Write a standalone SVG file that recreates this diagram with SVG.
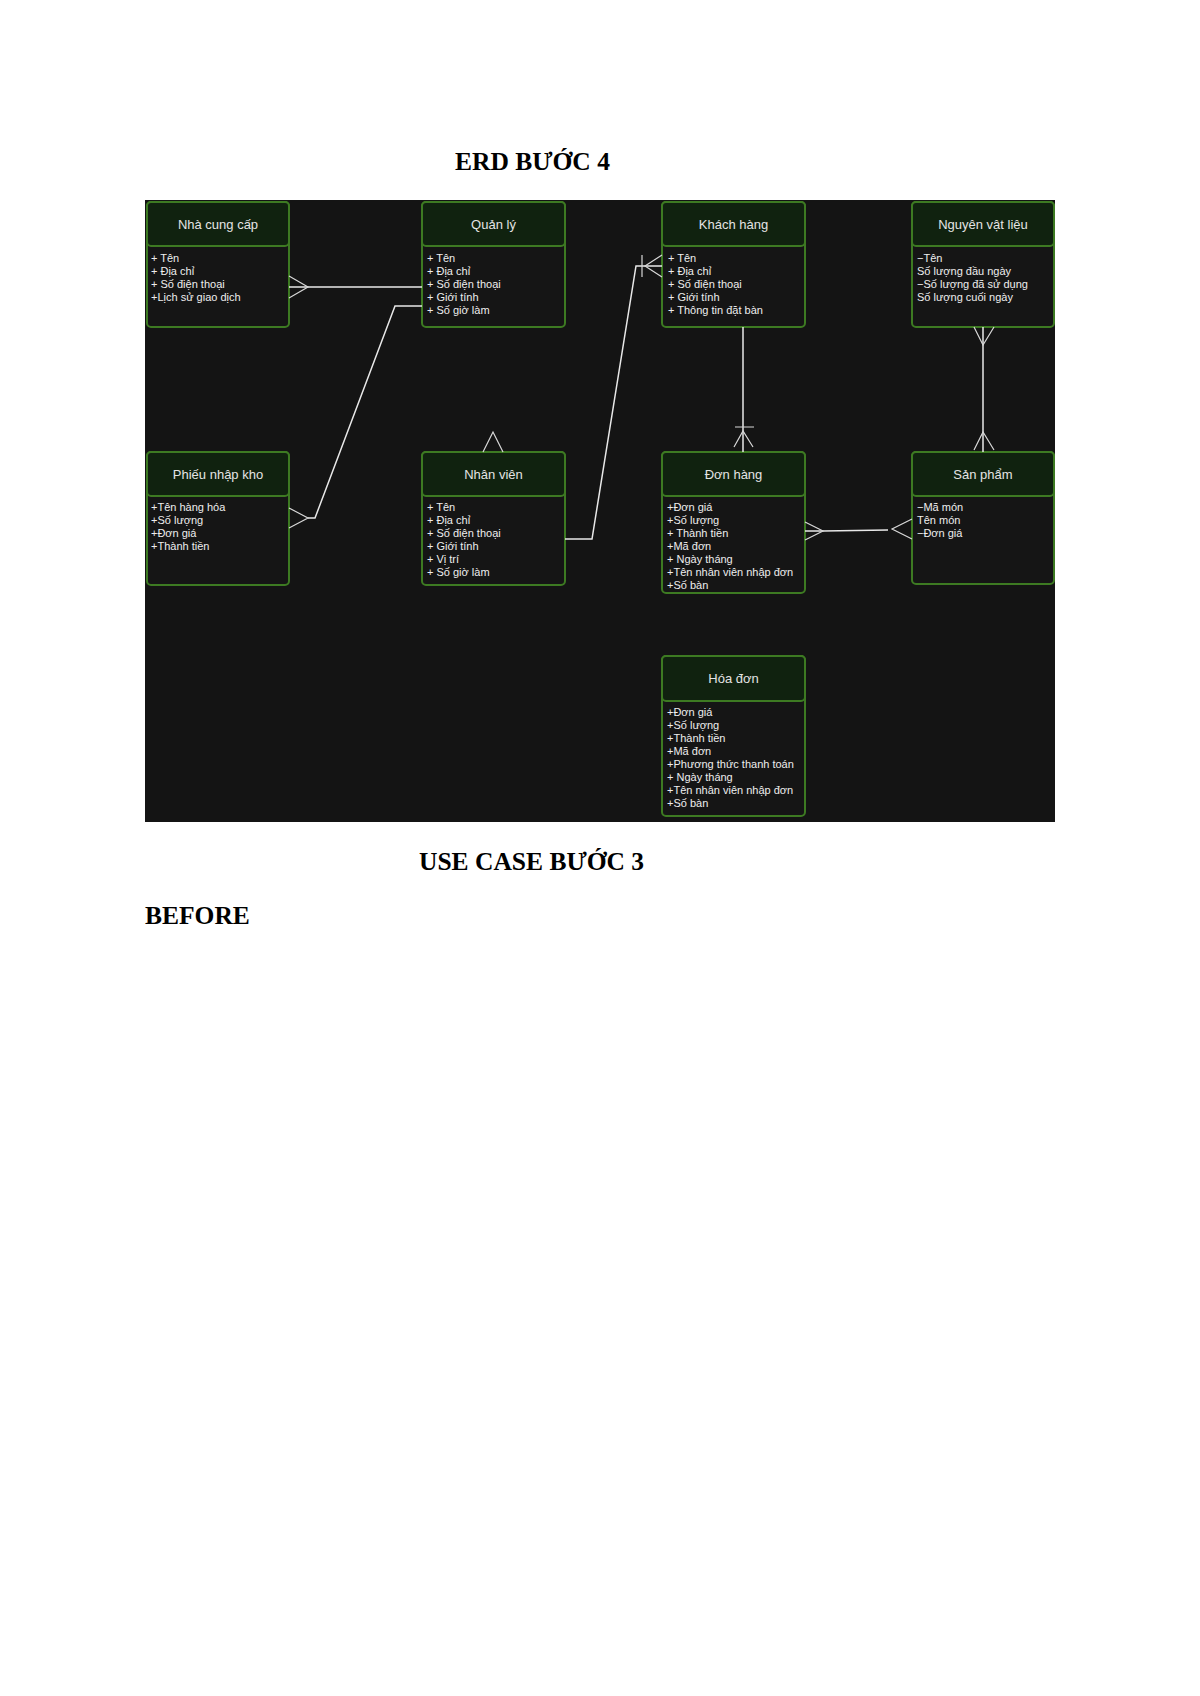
<svg xmlns="http://www.w3.org/2000/svg" width="1200" height="1696" viewBox="0 0 1200 1696">
<style>
.title{font-family:"Liberation Serif","Times New Roman",serif;font-weight:bold;font-size:25.5px;fill:#000}
.hdr{fill:#10220f;stroke:#3d7a22;stroke-width:2}
.body{fill:#151515;stroke:#3d7a22;stroke-width:2}
.name{font-family:"Liberation Sans",Arial,sans-serif;font-size:13px;fill:#e4e4e4;text-anchor:middle}
.attr{font-family:"Liberation Sans",Arial,sans-serif;font-size:11px;fill:#eeeeee}
.ln{fill:none;stroke:#e8e8e8;stroke-width:1.5}
.ft{fill:none;stroke:#d8d8d8;stroke-width:1.2}
</style>
<rect x="0" y="0" width="1200" height="1696" fill="#ffffff"/>
<text class="title" x="455" y="170">ERD BƯỚC 4</text>
<rect x="145" y="200" width="910" height="622" fill="#141414"/>

<g id="nha-cung-cap">
<rect class="body" x="147" y="202" width="142" height="125" rx="4"/>
<rect class="hdr" x="147" y="202" width="142" height="44" rx="4"/>
<text class="name" x="218" y="229">Nhà cung cấp</text>
<text class="attr" x="151" y="262">+ Tên</text>
<text class="attr" x="151" y="275">+ Địa chỉ</text>
<text class="attr" x="151" y="288">+ Số điện thoại</text>
<text class="attr" x="151" y="301">+Lịch sử giao dịch</text>
</g>

<g id="quan-ly">
<rect class="body" x="422" y="202" width="143" height="125" rx="4"/>
<rect class="hdr" x="422" y="202" width="143" height="44" rx="4"/>
<text class="name" x="493.5" y="229">Quản lý</text>
<text class="attr" x="427" y="262">+ Tên</text>
<text class="attr" x="427" y="275">+ Địa chỉ</text>
<text class="attr" x="427" y="288">+ Số điện thoại</text>
<text class="attr" x="427" y="301">+ Giới tính</text>
<text class="attr" x="427" y="314">+ Số giờ làm</text>
</g>

<g id="khach-hang">
<rect class="body" x="662" y="202" width="143" height="125" rx="4"/>
<rect class="hdr" x="662" y="202" width="143" height="44" rx="4"/>
<text class="name" x="733.5" y="229">Khách hàng</text>
<text class="attr" x="668" y="262">+ Tên</text>
<text class="attr" x="668" y="275">+ Địa chỉ</text>
<text class="attr" x="668" y="288">+ Số điện thoại</text>
<text class="attr" x="668" y="301">+ Giới tính</text>
<text class="attr" x="668" y="314">+ Thông tin đặt bàn</text>
</g>

<g id="nguyen-vat-lieu">
<rect class="body" x="912" y="202" width="142" height="125" rx="4"/>
<rect class="hdr" x="912" y="202" width="142" height="44" rx="4"/>
<text class="name" x="983" y="229">Nguyên vật liệu</text>
<text class="attr" x="917" y="262">−Tên</text>
<text class="attr" x="917" y="275"> Số lượng đầu ngày</text>
<text class="attr" x="917" y="288">−Số lượng đã sử dụng</text>
<text class="attr" x="917" y="301"> Số lượng cuối ngày</text>
</g>

<g id="phieu-nhap-kho">
<rect class="body" x="147" y="452" width="142" height="133" rx="4"/>
<rect class="hdr" x="147" y="452" width="142" height="44" rx="4"/>
<text class="name" x="218" y="479">Phiếu nhập kho</text>
<text class="attr" x="151" y="511">+Tên hàng hóa</text>
<text class="attr" x="151" y="524">+Số lượng</text>
<text class="attr" x="151" y="537">+Đơn giá</text>
<text class="attr" x="151" y="550">+Thành tiền</text>
</g>

<g id="nhan-vien">
<rect class="body" x="422" y="452" width="143" height="133" rx="4"/>
<rect class="hdr" x="422" y="452" width="143" height="44" rx="4"/>
<text class="name" x="493.5" y="479">Nhân viên</text>
<text class="attr" x="427" y="511">+ Tên</text>
<text class="attr" x="427" y="524">+ Địa chỉ</text>
<text class="attr" x="427" y="537">+ Số điện thoại</text>
<text class="attr" x="427" y="550">+ Giới tính</text>
<text class="attr" x="427" y="563">+ Vị trí</text>
<text class="attr" x="427" y="576">+ Số giờ làm</text>
</g>

<g id="don-hang">
<rect class="body" x="662" y="452" width="143" height="141" rx="4"/>
<rect class="hdr" x="662" y="452" width="143" height="44" rx="4"/>
<text class="name" x="733.5" y="479">Đơn hàng</text>
<text class="attr" x="667" y="511">+Đơn giá</text>
<text class="attr" x="667" y="524">+Số lượng</text>
<text class="attr" x="667" y="537">+ Thành tiền</text>
<text class="attr" x="667" y="550">+Mã đơn</text>
<text class="attr" x="667" y="563">+ Ngày tháng</text>
<text class="attr" x="667" y="576">+Tên nhân viên nhập đơn</text>
<text class="attr" x="667" y="589">+Số bàn</text>
</g>

<g id="san-pham">
<rect class="body" x="912" y="452" width="142" height="132" rx="4"/>
<rect class="hdr" x="912" y="452" width="142" height="44" rx="4"/>
<text class="name" x="983" y="479">Sản phẩm</text>
<text class="attr" x="917" y="511">−Mã món</text>
<text class="attr" x="917" y="524"> Tên món</text>
<text class="attr" x="917" y="537">−Đơn giá</text>
</g>

<g id="hoa-don">
<rect class="body" x="662" y="656" width="143" height="160" rx="4"/>
<rect class="hdr" x="662" y="656" width="143" height="45" rx="4"/>
<text class="name" x="733.5" y="683">Hóa đơn</text>
<text class="attr" x="667" y="716">+Đơn giá</text>
<text class="attr" x="667" y="729">+Số lượng</text>
<text class="attr" x="667" y="742">+Thành tiền</text>
<text class="attr" x="667" y="755">+Mã đơn</text>
<text class="attr" x="667" y="768">+Phương thức thanh toán</text>
<text class="attr" x="667" y="781">+ Ngày tháng</text>
<text class="attr" x="667" y="794">+Tên nhân viên nhập đơn</text>
<text class="attr" x="667" y="807">+Số bàn</text>
</g>

<g id="connectors">
<!-- Nha cung cap - Quan ly -->
<path class="ln" d="M289,287 H422"/>
<path class="ft" d="M289,276 L308,287 L289,298"/>
<!-- Quan ly - Phieu nhap kho -->
<path class="ln" d="M422,306 H395 L315,518 H308"/>
<path class="ft" d="M289,508 L308,518 L289,528"/>
<!-- Nhan vien generalization triangle -->
<path class="ft" d="M483,452 L493,432 L503,452"/>
<!-- Nhan vien - Khach hang -->
<path class="ln" d="M565,539 H592 L636,266 H662"/>
<path class="ft" d="M662,255 L645,266 L662,277 M642,255 V277"/>
<!-- Khach hang - Don hang -->
<path class="ln" d="M743,327 V452"/>
<path class="ft" d="M735,427 H754 M734,447 L743,431 L753,447"/>
<!-- Nguyen vat lieu - San pham -->
<path class="ln" d="M983,327 V452"/>
<path class="ft" d="M974,327 L983,345 L994,327 M974,450 L983,432 L994,450"/>
<!-- Don hang - San pham -->
<path class="ln" d="M805,531 H823 L888,530"/>
<path class="ft" d="M805,522 L823,531 L805,540 M912,519 L892,529 L912,539"/>
</g>

<text class="title" x="419" y="870">USE CASE BƯỚC 3</text>
<text class="title" x="145" y="924">BEFORE</text>
</svg>
